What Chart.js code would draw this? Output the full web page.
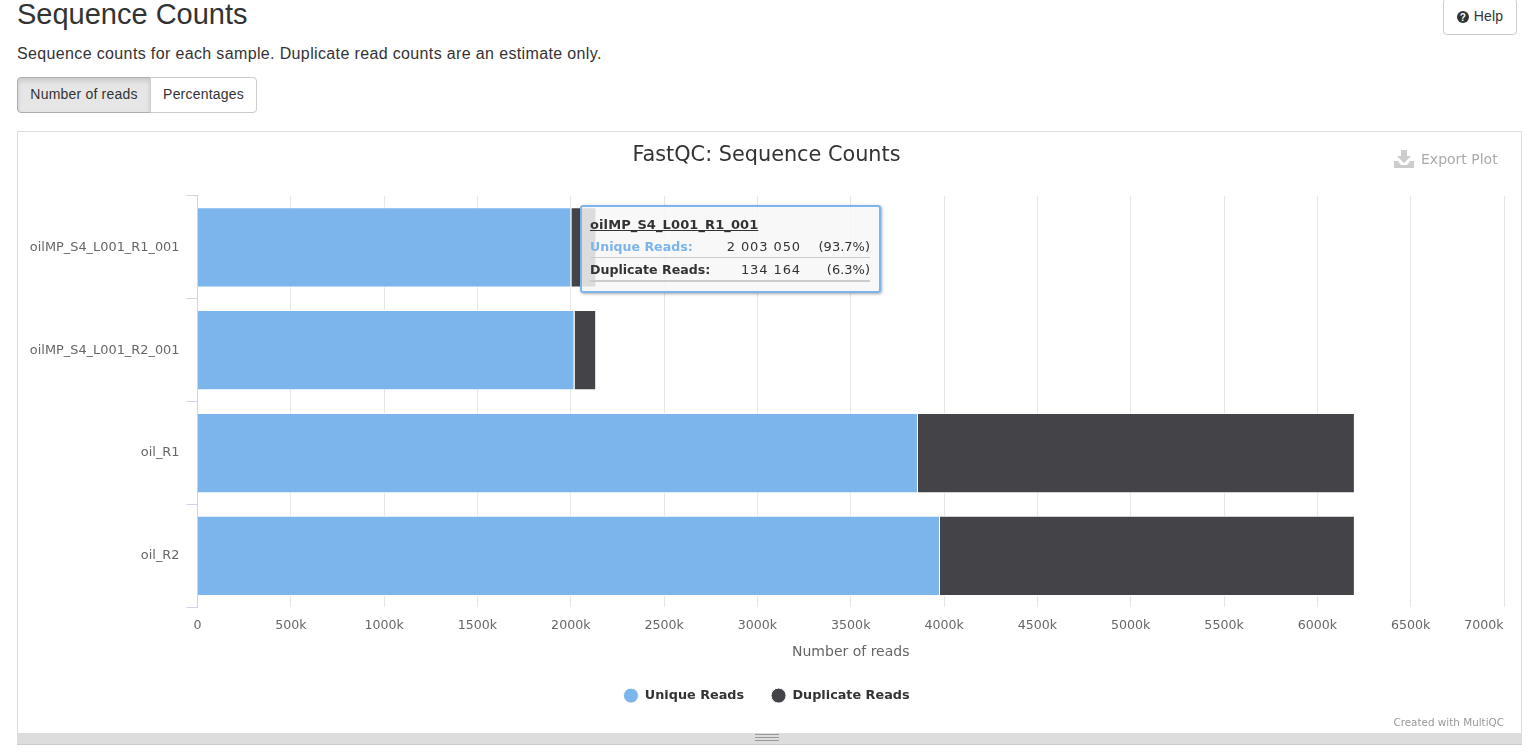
<!DOCTYPE html>
<html>
<head>
<meta charset="utf-8">
<title>Sequence Counts</title>
<script src="https://cdn.jsdelivr.net/npm/chart.js@4"></script>
<style>
body { margin: 0; background: #fff; color: #333; font-family: "Liberation Sans", Arial, sans-serif; overflow: hidden; }
h3 { position: absolute; left: 17px; top: -2px; margin: 0; font-size: 29px; font-weight: 400; line-height: 33px; }
p { position: absolute; left: 17px; top: 44px; margin: 0; font-size: 16px; line-height: 20px; letter-spacing: .36px; }
.btn { position: absolute; box-sizing: border-box; border: 1px solid #ccc; background: #fff; font-size: 14px; text-align: center; color: #333; letter-spacing: .2px; }
#help { left: 1443px; top: -2px; width: 74px; height: 37px; line-height: 35px; border-radius: 4px; }
#help svg { vertical-align: -2px; margin-right: 1px; }
#numBtn { left: 17px; top: 77px; width: 134px; height: 36px; line-height: 33px; background: #e6e6e6; border-color: #adadad; border-radius: 4px 0 0 4px; box-shadow: inset 0 3px 5px rgba(0,0,0,.125); }
#pctBtn { left: 150px; top: 77px; width: 107px; height: 36px; line-height: 33px; border-radius: 0 4px 4px 0; }
#box { position: absolute; left: 17px; top: 131px; width: 1505px; height: 602px; border: 1px solid #ddd; border-bottom: 0; box-sizing: border-box; }
#plot { position: absolute; left: 18px; top: 132px; }
#handle { position: absolute; left: 17px; top: 733px; width: 1505px; height: 12px; background: #ddd; border-bottom: 1px solid #ccc; box-sizing: border-box; }
#handle div { position: absolute; left: 738px; top: 1px; width: 24px; height: 5px; border-top: 1px solid #999; border-bottom: 1px solid #999; }
#handle div::after { content: ""; position: absolute; left: 0; right: 0; top: 2px; border-top: 1px solid #999; }
#export { position: absolute; left: 1394px; top: 150px; font: 14px "DejaVu Sans", sans-serif; color: #aaa; white-space: nowrap; }
#export svg { vertical-align: -4px; margin-right: 7px; }
#credit { position: absolute; right: 26px; top: 716px; font: 10.4px "DejaVu Sans", sans-serif; color: #999; }
#tip { position: absolute; left: 580px; top: 205px; width: 301px; height: 88px; box-sizing: border-box; background: rgba(247,247,247,.85); border: 2px solid #7cb5ec; border-radius: 3px; box-shadow: 1px 1px 3px rgba(0,0,0,.35); font: 13px "DejaVu Sans", sans-serif; color: #333; padding: 8px; }
#tip .name { font-weight: 700; text-decoration: underline; line-height: 20px; white-space: nowrap; letter-spacing: .1px; }
#tip table { border-collapse: collapse; width: 280px; }
#tip td { padding: 0; height: 22px; border-bottom: 1px solid #ccc; white-space: nowrap; text-align: right; }
#tip tr:last-child td { border-bottom-width: 2px; }
#tip td:first-child { font-weight: 700; text-align: left; font-size: 12.6px; }
#tip td:nth-child(2) { letter-spacing: .9px; }
</style>
</head>
<body>
<h3>Sequence Counts</h3>
<p>Sequence counts for each sample. Duplicate read counts are an estimate only.</p>
<div class="btn" id="help"><svg width="12" height="12" viewBox="0 0 12 12"><circle cx="6" cy="6" r="6" fill="#333"/><text x="6" y="9.6" text-anchor="middle" font-size="10" font-weight="700" fill="#fff" font-family="Liberation Sans">?</text></svg> Help</div>
<div class="btn" id="numBtn">Number of reads</div>
<div class="btn" id="pctBtn">Percentages</div>
<div id="box"></div>
<canvas id="plot"></canvas>
<div id="export"><svg width="20" height="18" viewBox="0 0 20 18"><path d="M7 0h6v6h4l-7 7-7-7h4z M0 11h4l3 4h6l3-4h4v7H0z" fill="#ccc"/></svg>Export Plot</div>
<div id="credit">Created with MultiQC</div>
<div id="handle"><div></div></div>
<div id="tip"></div>
<script>
const samples = ['oilMP_S4_L001_R1_001', 'oilMP_S4_L001_R2_001', 'oil_R1', 'oil_R2'];
const uniqueReads = [2003050, 2020000, 3860000, 3978000];
const duplicateReads = [134164, 116000, 2341000, 2223000];
const xTickLabels = ['0', '500k', '1000k', '1500k', '2000k', '2500k', '3000k', '3500k', '4000k', '4500k', '5000k', '5500k', '6000k', '6500k', '7000k'];

const labelFont = '"DejaVu Sans", sans-serif';

function spaced(n) {
    return String(n).replace(/\B(?=(\d{3})+$)/g, ' ');
}

// tooltip box, the one that is open on the first sample in the picture
function buildTip(i) {
    const total = uniqueReads[i] + duplicateReads[i];
    const row = (name, val, color) =>
        `<tr><td style="color:${color}">${name}:</td><td>${spaced(val)}</td><td style="width:69px">(${(val / total * 100).toFixed(1)}%)</td></tr>`;
    document.getElementById('tip').innerHTML =
        `<div class="name">${samples[i]}</div><table>` +
        row('Unique Reads', uniqueReads[i], '#7cb5ec') +
        row('Duplicate Reads', duplicateReads[i], '#333') +
        '</table>';
}
buildTip(0);

const canvas = document.getElementById('plot');
canvas.style.width = '1504px';
canvas.style.height = '600px';

new Chart(canvas, {
    type: 'bar',
    data: {
        labels: samples,
        datasets: [{
            label: 'Unique Reads',
            data: uniqueReads,
            backgroundColor: '#7cb5ec',
            borderColor: '#fff',
            borderWidth: 1
        }, {
            label: 'Duplicate Reads',
            data: duplicateReads,
            backgroundColor: '#434348',
            borderColor: '#fff',
            borderWidth: 1
        }]
    },
    options: {
        indexAxis: 'y',
        responsive: false,
        animation: false,
        events: [],
        barPercentage: 0.78,
        categoryPercentage: 1,
        layout: { padding: { left: 11, right: 18, top: 0, bottom: 20 } },
        plugins: {
            title: {
                display: true,
                text: 'FastQC: Sequence Counts',
                color: '#333',
                font: { family: labelFont, size: 20.8, weight: 'normal' },
                padding: { top: 11, bottom: 28 }
            },
            legend: {
                position: 'bottom',
                labels: {
                    usePointStyle: true,
                    pointStyle: 'circle',
                    boxHeight: 10.6,
                    pointStyleWidth: 15,
                    padding: 27,
                    color: '#333',
                    font: { family: labelFont, size: 12.8, weight: 'bold' }
                }
            },
            tooltip: { enabled: false }
        },
        scales: {
            x: {
                stacked: true,
                min: 0,
                max: 7000000,
                border: { display: false },
                grid: { color: '#e6e6e6', drawTicks: false },
                ticks: {
                    stepSize: 500000,
                    autoSkip: false,
                    maxRotation: 0,
                    padding: 11,
                    color: '#666',
                    font: { family: labelFont, size: 12.6 },
                    // last label sits left of its grid line, like the original
                    callback: (v, i) => i === xTickLabels.length - 1 ? xTickLabels[i] + '\u00a0'.repeat(10) : xTickLabels[i]
                },
                title: {
                    display: true,
                    text: 'Number of reads',
                    color: '#666',
                    font: { family: labelFont, size: 14 },
                    padding: { top: 0, bottom: 1 }
                },
                afterFit: s => { s.paddingRight = 0; s.paddingLeft = 0; }
            },
            y: {
                stacked: true,
                border: { color: '#ccd6eb' },
                grid: { drawOnChartArea: false, color: '#ccd6eb', tickLength: 11 },
                ticks: {
                    padding: 7,
                    color: '#666',
                    font: { family: labelFont, size: 12.9 }
                },
                afterFit: s => { s.width = 168.5; }
            }
        }
    }
});
</script>
</body>
</html>
